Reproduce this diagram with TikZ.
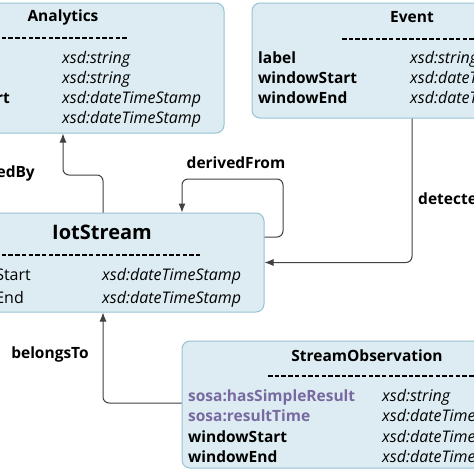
\documentclass[tikz,border=0pt]{standalone}
\usepackage{fontspec}
\setmainfont{Open Sans}
\usetikzlibrary{arrows.meta}

\definecolor{boxfill}{RGB}{220,236,242}
\definecolor{boxline}{RGB}{150,195,210}
\definecolor{sosa}{RGB}{120,105,160}
\definecolor{link}{RGB}{65,65,65}

\tikzset{
  box/.style={draw=boxline, fill=boxfill, rounded corners=8pt, line width=1pt, inner sep=0pt},
  title/.style={inner sep=0pt, font=\bfseries\fontsize{15.5}{18}\selectfont},
  prop/.style={anchor=base west, inner sep=0pt, font=\bfseries\fontsize{15.5}{18}\selectfont},
  type/.style={anchor=base west, inner sep=0pt, font=\itshape\fontsize{16}{18}\selectfont},
  rule/.style={line width=1.5pt, dash pattern=on 4.5pt off 2.2pt},
  rel/.style={draw=link, line width=1pt, rounded corners=6pt, -{Latex[length=9pt,width=7pt]}},
  rellabel/.style={inner sep=0pt, font=\bfseries\fontsize{15.5}{18}\selectfont},
}

\begin{document}
\begin{tikzpicture}[x=1pt,y=-1pt]
  \useasboundingbox (0,0) rectangle (474,474);
  \fill[white] (0,0) rectangle (474,474);
  \clip (0,0) rectangle (474,474);

  % Analytics
  \node[box, minimum width=344pt, minimum height=130pt] (analytics) at (52,68) {};
  \node[title] (analyticsT) at (63,17) {Analytics};
  \draw[rule] (-5,38) -- (127,38);
  \node[prop, anchor=base east] at (10,103) {windowStart};
  \node[type] at (62,63) {xsd:string};
  \node[type] at (62,83) {xsd:string};
  \node[type] at (62,103) {xsd:dateTimeStamp};
  \node[type] at (62,123) {xsd:dateTimeStamp};

  % Event
  \node[box, minimum width=348pt, minimum height=115pt] (event) at (426,60.5) {};
  \node[title] (eventT) at (412,17) {Event};
  \draw[rule] (342,39) -- (480,39);
  \node[prop] at (258,63) {label};
  \node[prop] at (258,83) {windowStart};
  \node[prop] at (258,103) {windowEnd};
  \node[type] at (410,63) {xsd:string};
  \node[type] at (410,83) {xsd:dateTimeStamp};
  \node[type] at (410,103) {xsd:dateTimeStamp};

  % IotStream
  \node[box, minimum width=414pt, minimum height=99pt] (iotstream) at (57,262.5) {};
  \node[title, font=\bfseries\fontsize{20}{24}\selectfont] (iotstreamT) at (102,232) {IotStream};
  \draw[rule] (-5,255) -- (200,255);
  \node[prop, font=\fontsize{16}{18}\selectfont, anchor=base east] at (31,280) {windowStart};
  \node[prop, font=\fontsize{16}{18}\selectfont, anchor=base east] at (24,303) {windowEnd};
  \node[type] at (102,280) {xsd:dateTimeStamp};
  \node[type] at (102,303) {xsd:dateTimeStamp};

  % StreamObservation
  \node[box, minimum width=378pt, minimum height=127pt] (streamobs) at (371,404.5) {};
  \node[title] (streamobsT) at (367,356) {StreamObservation};
  \draw[rule] (268,376) -- (480,376);
  \node[prop, text=sosa] at (188,401) {sosa:hasSimpleResult};
  \node[prop, text=sosa] at (188,421) {sosa:resultTime};
  \node[prop] at (188,442) {windowStart};
  \node[prop] at (188,462) {windowEnd};
  \node[type] at (382,401) {xsd:string};
  \node[type] at (382,421) {xsd:dateTimeStamp};
  \node[type] at (382,442) {xsd:dateTimeStamp};
  \node[type] at (382,462) {xsd:dateTimeStamp};

  % relations
  \draw[rel] ([xshift=46pt]iotstream.north) -- (103,175) -- (63,175) -- ([xshift=11pt]analytics.south);
  \draw[rel] ([yshift=25.5pt]iotstream.east) -- (283,237) -- (283,179) -- (182,179) -- ([xshift=125pt]iotstream.north);
  \draw[rel] ([xshift=-14pt]event.south) -- (412,262.5) -- (iotstream.east);
  \draw[rel] ([yshift=1.5pt]streamobs.west) -- (103,403) -- ([xshift=46pt]iotstream.south);

  \node[rellabel, anchor=base east] (analysedBy) at (35,177) {analysedBy};
  \node[rellabel] (derivedFrom) at (236,163) {derivedFrom};
  \node[rellabel, anchor=base west] (detectedFrom) at (418,204) {detectedFrom};
  \node[rellabel] (belongsTo) at (50,354) {belongsTo};
\end{tikzpicture}
\end{document}
